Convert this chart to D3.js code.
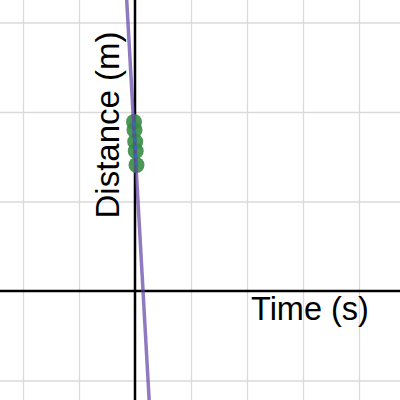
<!DOCTYPE html>
<meta charset="utf-8">
<style>
body { margin: 0; background: white; }
svg text { font-family: "Liberation Sans", Arial, sans-serif; fill: black; }
</style>
<script src="https://d3js.org/d3.v7.min.js"></script>
<div id="chart"></div>
<script>

// data
var times = [-0.018, -0.009, 0.004, 0.013, 0.027];
var distances = [1.888, 1.799, 1.668, 1.564, 1.408];
var fitTimes = [-0.15, 0.26];
var fitDistances = [3.27, -1.3];
var xGrid = [-2, -1, 1, 2, 3, 4];
var yGrid = [-1, 1, 2, 3];

var width = 400,
    height = 400;

var svg = d3.select("#chart")
  .append("svg")
    .attr("width", width)
    .attr("height", height);

var x = d3.scaleLinear()
  .domain([-135 / 56, 265 / 56])
  .range([0, width]);

var y = d3.scaleLinear()
  .domain([-109 / 89.5, 291 / 89.5])
  .range([height, 0]);

// grid
svg.append("g")
  .attr("transform", "translate(0," + height + ")")
  .call(d3.axisBottom(x).tickValues(xGrid).tickSize(height).tickFormat(""))
  .call(function(g) { g.select(".domain").remove(); })
  .selectAll("line")
    .attr("transform", "translate(0," + (-height) + ")")
    .attr("y2", height)
    .attr("stroke", "#dadada")
    .attr("stroke-width", 1.3);

svg.append("g")
  .call(d3.axisLeft(y).tickValues(yGrid).tickSize(-width).tickFormat(""))
  .call(function(g) { g.select(".domain").remove(); })
  .selectAll("line")
    .attr("stroke", "#dadada")
    .attr("stroke-width", 1.3);

// axes
svg.append("line")
  .attr("x1", 0).attr("x2", width)
  .attr("y1", y(0)).attr("y2", y(0))
  .attr("stroke", "black")
  .attr("stroke-width", 2.5);

svg.append("line")
  .attr("x1", x(0)).attr("x2", x(0))
  .attr("y1", 0).attr("y2", height)
  .attr("stroke", "black")
  .attr("stroke-width", 2.5);

// points
var pts = times.map(function(t, i) { return [t, distances[i]]; });

svg.selectAll("circle")
  .data(pts)
  .enter()
  .append("circle")
    .attr("cx", function(d) { return x(d[0]); })
    .attr("cy", function(d) { return y(d[1]); })
    .attr("r", 8)
    .attr("fill", "#388c46")
    .attr("fill-opacity", 0.9);

// fitted line
var line = d3.line()
  .x(function(d) { return x(d[0]); })
  .y(function(d) { return y(d[1]); });

svg.append("path")
  .datum(fitTimes.map(function(t, i) { return [t, fitDistances[i]]; }))
  .attr("d", line)
  .attr("fill", "none")
  .attr("stroke", "#6042a6")
  .attr("stroke-opacity", 0.7)
  .attr("stroke-width", 3.5);

// dashed link through points
svg.append("path")
  .datum(pts)
  .attr("d", line)
  .attr("fill", "none")
  .attr("stroke", "#2d70b3")
  .attr("stroke-width", 3)
  .attr("stroke-dasharray", "4,4");

// labels
svg.append("text")
  .attr("x", 251)
  .attr("y", 320)
  .style("font-size", "32.5px")
  .text("Time (s)");

svg.append("text")
  .attr("transform", "translate(118.5," + 125 + ") rotate(-90)")
  .attr("text-anchor", "middle")
  .style("font-size", "33px")
  .text("Distance (m)");

</script>
